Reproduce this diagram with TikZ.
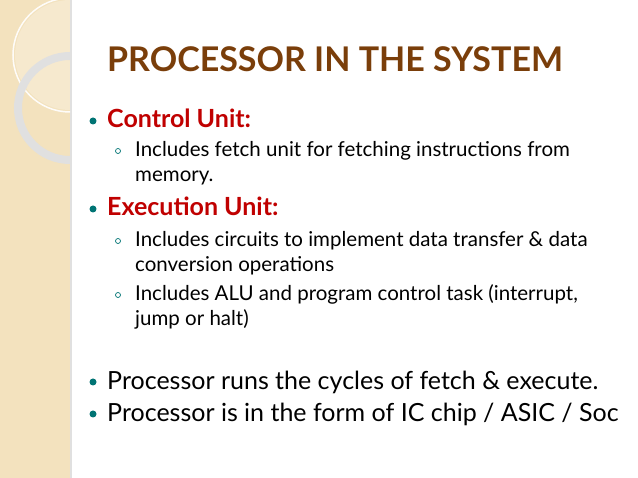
\documentclass[tikz,border=0pt]{standalone}
\usepackage{fontspec}
\setmainfont{Lato}
\begin{document}
\begin{tikzpicture}[x=1pt,y=-1pt,
  t/.style={anchor=base west,inner sep=0pt},
  dot/.style={circle,fill=teal!70!cyan!70!black,inner sep=0pt,minimum size=7pt},
  sub/.style={circle,draw=teal!70!cyan!70!black,line width=0.7pt,inner sep=0pt,minimum size=5pt}]
\definecolor{beige}{RGB}{243,226,190}
\definecolor{brownt}{RGB}{122,62,10}
\definecolor{redh}{RGB}{192,0,0}
\useasboundingbox (0,0) rectangle (638,478);
\fill[white] (0,0) rectangle (638,478);
\fill[beige] (0,0) rectangle (70,478);
\fill[black!12] (70,0) rectangle (72,478);
\begin{scope}
\clip (0,0) rectangle (70,478);
\fill[white,opacity=0.25] (70,55) circle (55);
\draw[white!90!beige,line width=1.5pt] (70,55) circle (57);
\draw[black!12!white,line width=8pt] (70,108) circle (52);
\end{scope}
\node[t,font=\bfseries\fontsize{34}{40}\selectfont,text=brownt] (title) at (107,72) {PROCESSOR IN THE SYSTEM};
\node[dot] (d1) at (93,121) {};
\node[t,font=\bfseries\fontsize{25}{28}\selectfont,text=redh] (cu) at (107,128) {Control Unit:};
\node[sub] (s1) at (118,151) {};
\node[t,font=\fontsize{20.5}{24}\selectfont] (cu1) at (135,157) {Includes fetch unit for fetching instructions from};
\node[t,font=\fontsize{20.5}{24}\selectfont] (cu2) at (135,182) {memory.};
\node[dot] (d2) at (93,209) {};
\node[t,font=\bfseries\fontsize{25}{28}\selectfont,text=redh] (eu) at (107,216) {Execution Unit:};
\node[sub] (s2) at (118,241) {};
\node[t,font=\fontsize{20.5}{24}\selectfont] (e1) at (135,247) {Includes circuits to implement data transfer \& data};
\node[t,font=\fontsize{20.5}{24}\selectfont] (e2) at (135,272) {conversion operations};
\node[sub] (s3) at (118,295) {};
\node[t,font=\fontsize{20.5}{24}\selectfont] (e3) at (135,301) {Includes ALU and program control task (interrupt,};
\node[t,font=\fontsize{20.5}{24}\selectfont] (e4) at (135,326) {jump or halt)};
\node[dot] (d3) at (93,382) {};
\node[t,font=\fontsize{25}{30}\selectfont] (p1) at (107,390) {Processor runs the cycles of fetch \& execute.};
\node[dot] (d4) at (93,414) {};
\node[t,font=\fontsize{25}{30}\selectfont] (p2) at (107,422) {Processor is in the form of IC chip / ASIC / Soc};
\end{tikzpicture}
\end{document}
